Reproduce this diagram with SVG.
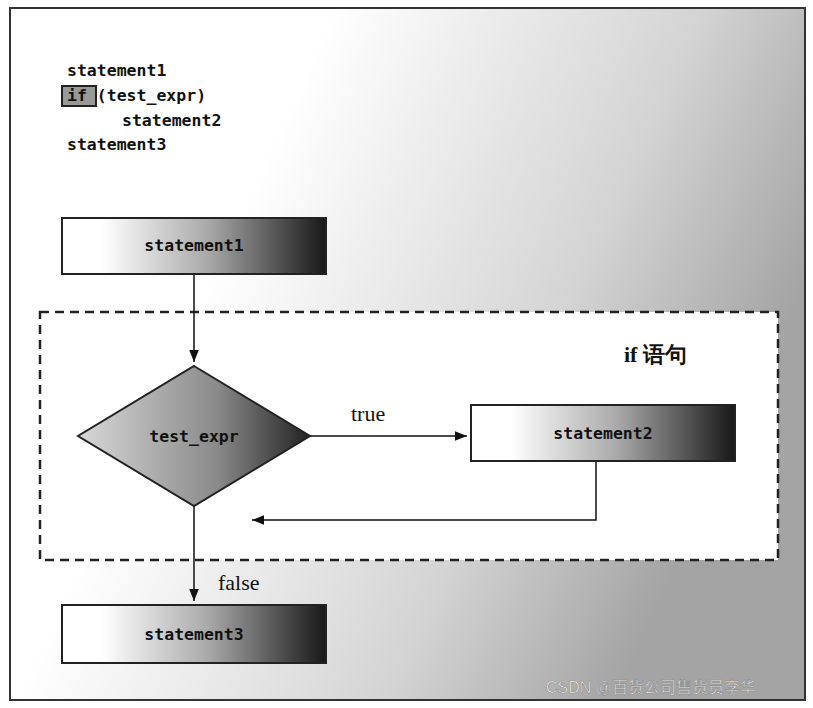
<svg xmlns="http://www.w3.org/2000/svg" width="813" height="708" viewBox="0 0 813 708">
<defs>
<linearGradient id="bg" x1="0" y1="0" x2="1" y2="0.4"><stop offset="0.35" stop-color="#fff"/><stop offset="0.75" stop-color="#d4d4d4"/><stop offset="1" stop-color="#a4a4a4"/></linearGradient>
<linearGradient id="box" x1="0" y1="0" x2="1" y2="0"><stop offset="0" stop-color="#fff"/><stop offset="0.15" stop-color="#fff"/><stop offset="0.55" stop-color="#aaa"/><stop offset="1" stop-color="#181818"/></linearGradient>
<linearGradient id="dia" x1="0" y1="0" x2="1" y2="0"><stop offset="0" stop-color="#d8d8d8"/><stop offset="0.6" stop-color="#8a8a8a"/><stop offset="1" stop-color="#222"/></linearGradient>
<marker id="ah" viewBox="0 0 10 10" refX="10" refY="5" markerWidth="8" markerHeight="8" orient="auto"><path d="M0,1 L10,5 L0,9 Z" fill="#111"/></marker>
<style>
.box{fill:url(#box);stroke:#222;stroke-width:2}
.code{font-family:"DejaVu Sans Mono",monospace;font-size:16.5px;font-weight:bold;fill:#111}
.lbl{font-family:"Liberation Serif",serif;font-size:22px;fill:#111}
.ln{fill:none;stroke:#111;stroke-width:1.5}
</style>
</defs>
<rect x="0" y="0" width="813" height="708" fill="#fff"/>
<rect x="10" y="8" width="795" height="692" fill="url(#bg)" stroke="#333" stroke-width="2"/>
<rect x="40" y="312" width="738" height="248" fill="#fff" stroke="#222" stroke-width="2.5" stroke-dasharray="9,6"/>
<g id="code">
<rect x="62" y="86" width="34" height="20" fill="#999" stroke="#222" stroke-width="2"/>
<text class="code" x="67" y="76">statement1</text>
<text class="code" x="67" y="101">if (test_expr)</text>
<text class="code" x="122" y="126">statement2</text>
<text class="code" x="67" y="150">statement3</text>
</g>
<g id="connectors">
<line class="ln" x1="194" y1="274" x2="194" y2="362" marker-end="url(#ah)"/>
<line class="ln" x1="310" y1="436" x2="467" y2="436" marker-end="url(#ah)"/>
<polyline class="ln" points="596,461 596,520 252,520" marker-end="url(#ah)"/>
<line class="ln" x1="194" y1="506" x2="194" y2="601" marker-end="url(#ah)"/>
</g>
<g id="statement1"><rect class="box" x="62" y="218" width="264" height="56"/><text class="code" x="194" y="251" text-anchor="middle">statement1</text></g>
<g id="test_expr"><polygon points="194,366 310,436 194,506 78,436" fill="url(#dia)" stroke="#222" stroke-width="2"/><text class="code" x="194" y="442" text-anchor="middle">test_expr</text></g>
<g id="statement2"><rect class="box" x="471" y="405" width="264" height="56"/><text class="code" x="603" y="439" text-anchor="middle">statement2</text></g>
<g id="statement3"><rect class="box" x="62" y="605" width="264" height="58"/><text class="code" x="194" y="640" text-anchor="middle">statement3</text></g>
<text class="lbl" x="351" y="421">true</text>
<text class="lbl" x="218" y="590">false</text>
<text class="lbl" x="624" y="362" font-weight="bold" font-family="'Liberation Serif','Noto Sans CJK SC',serif">if 语句</text>
<text x="546" y="693" font-family="'Liberation Sans','Noto Sans CJK SC',sans-serif" font-size="16" fill="#fff" stroke="#888" stroke-width="0.6">CSDN @百货公司售货员李华</text>
</svg>
